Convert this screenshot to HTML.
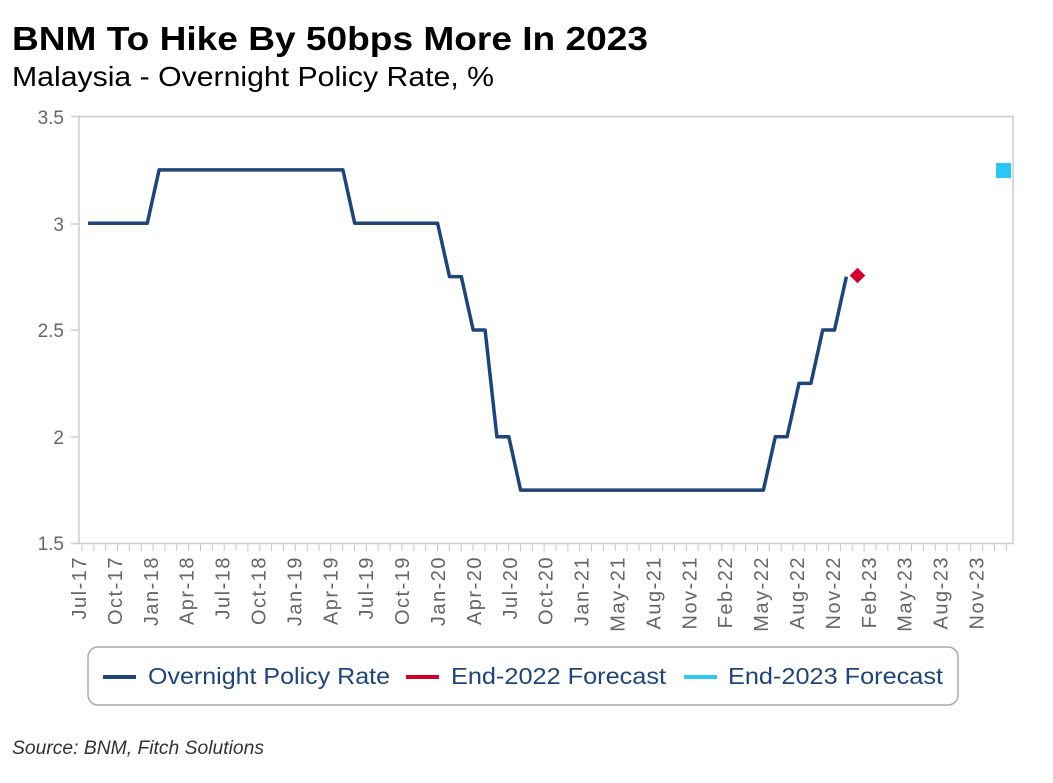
<!DOCTYPE html>
<html><head><style>
body{margin:0;background:#fff;width:1053px;height:778px;overflow:hidden;font-family:"Liberation Sans",sans-serif}
</style></head><body>
<svg width="1053" height="778" xmlns="http://www.w3.org/2000/svg" font-family="Liberation Sans, sans-serif">
<text x="12" y="50" font-size="33" font-weight="bold" fill="#000" textLength="636" lengthAdjust="spacingAndGlyphs">BNM To Hike By 50bps More In 2023</text>
<text x="12" y="86" font-size="28" fill="#000" textLength="482" lengthAdjust="spacingAndGlyphs">Malaysia - Overnight Policy Rate, %</text>
<rect x="79" y="116.5" width="934" height="427" fill="none" stroke="#c8cdd4" stroke-width="1.5"/>
<g stroke="#c8cdd4" stroke-width="1.5">
<line x1="71" y1="116.5" x2="79" y2="116.5"/><line x1="71" y1="224" x2="79" y2="224"/>
<line x1="71" y1="330" x2="79" y2="330"/><line x1="71" y1="437" x2="79" y2="437"/>
<line x1="71" y1="543.5" x2="79" y2="543.5"/>
</g>
<g font-size="19" fill="#666" text-anchor="end">
<text x="64" y="124">3.5</text><text x="64" y="231">3</text><text x="64" y="337">2.5</text>
<text x="64" y="444">2</text><text x="64" y="550">1.5</text>
</g>
<g id="ticks" stroke="#b8c8dc" stroke-width="1"></g>
<g id="labels" font-size="20" fill="#666"></g>
<polyline id="opr" fill="none" stroke="#1f4478" stroke-width="3.5" stroke-linejoin="round"/>
<rect x="852" y="270" width="11" height="11" fill="#d0002a" transform="rotate(45 857.5 275.5)"/>
<rect x="996" y="163" width="15" height="15" fill="#2cc6f4"/>
<rect x="88" y="647" width="870" height="58" rx="10" fill="#fff" stroke="#aaa" stroke-width="1.5"/>
<line x1="103" y1="677" x2="136" y2="677" stroke="#1f4478" stroke-width="4"/>
<text x="148" y="684" font-size="23" fill="#1f4478" textLength="242" lengthAdjust="spacingAndGlyphs">Overnight Policy Rate</text>
<line x1="406" y1="677" x2="439" y2="677" stroke="#d0002a" stroke-width="4"/>
<text x="451" y="684" font-size="23" fill="#1f4478" textLength="215" lengthAdjust="spacingAndGlyphs">End-2022 Forecast</text>
<line x1="684" y1="677" x2="717" y2="677" stroke="#2cc6f4" stroke-width="4"/>
<text x="728" y="684" font-size="23" fill="#1f4478" textLength="215" lengthAdjust="spacingAndGlyphs">End-2023 Forecast</text>
<text x="12" y="754" font-size="19" font-style="italic" fill="#333" textLength="252" lengthAdjust="spacingAndGlyphs">Source: BNM, Fitch Solutions</text>
</svg>
<script>
var ns="http://www.w3.org/2000/svg";
var x0=88,dx=11.85;
function X(i){return x0+dx*i+((i>=21&&i<=37)?6:0)}
function Y(v){return 543.5-(v-1.5)*213.5}
var t=document.getElementById('ticks');
for(var k=0;k<=78;k++){var x=82+dx*k;if(x>1012)break;var l=document.createElementNS(ns,'line');l.setAttribute('x1',x);l.setAttribute('x2',x);l.setAttribute('y1',544);l.setAttribute('y2',551);t.appendChild(l);}
var lb=document.getElementById('labels');
var names=['Jul-17','Oct-17','Jan-18','Apr-18','Jul-18','Oct-18','Jan-19','Apr-19','Jul-19','Oct-19','Jan-20','Apr-20','Jul-20','Oct-20','Jan-21','May-21','Aug-21','Nov-21','Feb-22','May-22','Aug-22','Nov-22','Feb-23','May-23','Aug-23','Nov-23'];
for(var j=0;j<names.length;j++){var x=86+j*35.9;var tx=document.createElementNS(ns,'text');tx.setAttribute('x',0);tx.setAttribute('y',0);tx.setAttribute('text-anchor','end');tx.setAttribute('letter-spacing','1.5');tx.setAttribute('transform','translate('+(x)+',556) rotate(-90)');tx.textContent=names[j];lb.appendChild(tx);}
var v=[];
for(var i=0;i<=64;i++){var r;
if(i<=5)r=3;else if(i<=21)r=3.25;else if(i<=29)r=3;else if(i<=31)r=2.75;else if(i<=33)r=2.5;else if(i<=35)r=2;else if(i<=57)r=1.75;else if(i<=59)r=2;else if(i<=61)r=2.25;else if(i<=63)r=2.5;else r=2.75;
v.push(X(i).toFixed(1)+','+Y(r).toFixed(1));}
document.getElementById('opr').setAttribute('points',v.join(' '));
</script>
</body></html>
